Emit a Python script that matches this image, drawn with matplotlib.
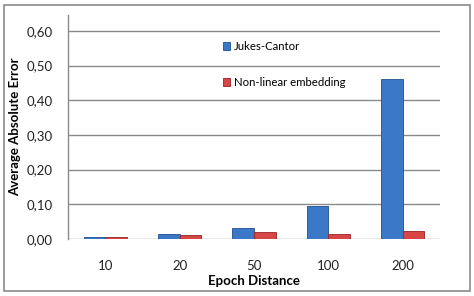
import matplotlib
matplotlib.use('Agg')
import matplotlib.pyplot as plt
import matplotlib.patches as mpatches
import numpy as np

# values
epochs = ['10', '20', '50', '100', '200']
jukes_cantor = [0.006, 0.014, 0.032, 0.095, 0.461]
nonlinear = [0.006, 0.011, 0.020, 0.015, 0.022]
yticks = [0.0, 0.1, 0.2, 0.3, 0.4, 0.5, 0.6]

plt.rcParams['font.family'] = ['Lato', 'DejaVu Sans']

fig = plt.figure(figsize=(4.74, 2.96), dpi=100)
ax = fig.add_axes([68/474, 1 - 239/296, (440-68)/474, (239-15)/296])

x = np.arange(len(epochs))
w = 0.29
ax.bar(x - w/2, jukes_cantor, w, color='#3b78c8', edgecolor='#234f8f', linewidth=0.6,
       label='Jukes-Cantor', zorder=3)
ax.bar(x + w/2, nonlinear, w, color='#d84545', edgecolor='#962424', linewidth=0.6,
       label='Non-linear embedding', zorder=3)

ax.set_xlim(-0.5, len(epochs) - 0.5)
ax.set_ylim(0, 0.646)
ax.set_yticks(yticks)
ax.set_yticklabels(['{:.2f}'.format(v).replace('.', ',') for v in yticks], fontsize=9.5, color='#222222')
ax.set_xticks(x)
ax.set_xticklabels(epochs, fontsize=9.5, color='#222222')
ax.tick_params(axis='x', length=0, pad=15)
ax.tick_params(axis='y', length=0, pad=11)

ax.grid(axis='y', color='#8a8a8a', linewidth=1.0, zorder=0)
for s in ['top', 'right', 'bottom']:
    ax.spines[s].set_visible(False)
ax.spines['left'].set_color('#8a8a8a')
ax.spines['left'].set_linewidth(1.0)

ax.set_xlabel('Epoch Distance', fontsize=9.5, fontweight='bold', labelpad=2)
ax.set_ylabel('Average Absolute Error', fontsize=9.5, fontweight='bold', labelpad=4)

ax.legend(loc='upper left', bbox_to_anchor=(0.39, 0.93), frameon=False, fontsize=8.2,
          handlelength=0.6, handleheight=0.6, handletextpad=0.3, labelspacing=2.2)

# grey border round the whole picture
fig.patches.append(mpatches.Rectangle((4/474, 5/296), 466/474, 286/296, transform=fig.transFigure,
                                      fill=False, edgecolor='#8a8a8a', linewidth=1.2))

fig.savefig('out.png', dpi=100)
